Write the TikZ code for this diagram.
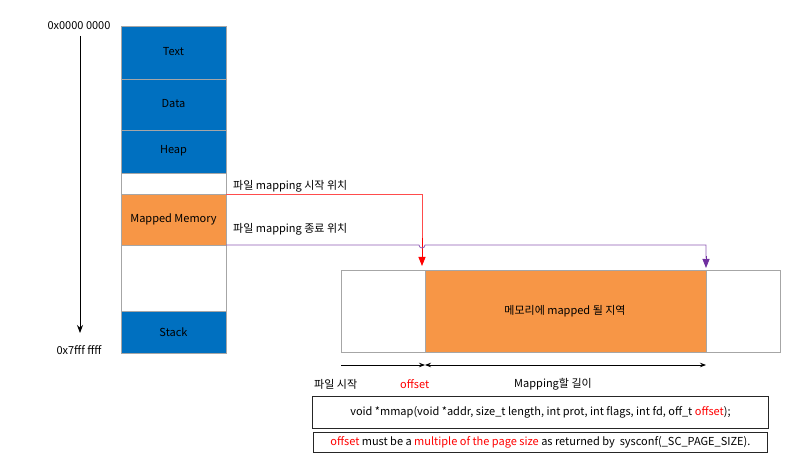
\documentclass[tikz,border=0pt]{standalone}
\usepackage{fontspec}
\setmainfont{Noto Sans CJK KR}
\usetikzlibrary{arrows.meta}
\definecolor{blu}{HTML}{0070C0}
\definecolor{org}{HTML}{F79646}
\definecolor{pur}{HTML}{7030A0}
\begin{document}
\begin{tikzpicture}[x=1pt,y=-1pt,font=\fontsize{11}{13}\selectfont,
 seg/.style={draw=gray!70,line width=0.8pt},
 lab/.style={inner sep=0pt}]
\useasboundingbox (0,0) rectangle (790,465);
\fill[blu,seg] (121,26) rectangle (226,79);
\fill[blu,seg] (121,79) rectangle (226,130);
\fill[blu,seg] (121,130) rectangle (226,173);
\draw[seg] (121,173) rectangle (226,194);
\fill[org,seg] (121,194) rectangle (226,245);
\draw[seg] (121,245) rectangle (226,311);
\fill[blu,seg] (121,311) rectangle (226,353);
\node[lab] (t) at (173.5,52) {Text};
\node[lab] (d) at (173.5,104) {Data};
\node[lab] (h) at (173.5,151) {Heap};
\node[lab] (m) at (173.5,219) {Mapped Memory};
\node[lab] (s) at (173.5,332) {Stack};
\node[lab] (a0) at (79,26) {0x0000 0000};
\node[lab] (a1) at (79,350) {0x7fff ffff};
\coordinate (ax0) at (80,36); \coordinate (ax1) at (80,333);
\draw[-{Stealth[length=8pt,width=6pt]},line width=0.8pt] (ax0) -- (ax1);
\draw[seg] (341,270) rectangle (780,352);
\fill[org,seg] (425,270) rectangle (706,352);
\node[lab] (mm) at (565,311) {메모리에 mapped 될 지역};
\coordinate (r0) at (226,194); \coordinate (r1) at (422,194); \coordinate (r2) at (422,266);
\draw[red!70,line width=0.8pt] (r0) -- (r1) -- (422,238);
\draw[red,-{Triangle[length=9pt,width=7pt]},line width=0.8pt] (422,238) -- (r2);
\coordinate (p0) at (226,245); \coordinate (p1) at (706,245); \coordinate (p2) at (706,268);
\draw[pur!80,line width=0.8pt] (p0) -- (419,245) arc[start angle=180,end angle=0,radius=3] -- (p1) -- (706,258);
\draw[pur,-{Triangle[length=9pt,width=7pt]},line width=0.8pt] (706,256) -- (p2);
\node[lab,anchor=west] (l1) at (233,186) {파일 mapping 시작 위치};
\node[lab,anchor=west] (l2) at (233,229) {파일 mapping 종료 위치};
\coordinate (q0) at (341,365); \coordinate (q1) at (425,365); \coordinate (q2) at (706,365);
\draw[-{Stealth[length=6pt]},line width=0.8pt] (q0) -- (q1);
\draw[{Stealth[length=6pt]}-{Stealth[length=6pt]},line width=0.8pt] (q1) -- (q2);
\node[lab,anchor=west] (b1) at (314,384) {파일 시작};
\node[lab,anchor=west,text=red] (b2) at (400,384) {offset};
\node[lab] (b3) at (553,384) {Mapping할 길이};
\node[draw=gray!30!black,line width=0.9pt,minimum width=456pt,minimum height=32pt,anchor=north west] (c1) at (312,396) {void *mmap(void *addr, size\_t length, int prot, int flags, int fd, off\_t \textcolor{red}{offset});};
\node[draw=gray!30!black,line width=0.9pt,minimum width=454pt,minimum height=20pt,anchor=north west,inner sep=1pt] (c2) at (313,432) {\textcolor{red}{offset} must be a \textcolor{red}{multiple of the page size} as returned by\ \ sysconf(\_SC\_PAGE\_SIZE).};
\end{tikzpicture}
\end{document}
